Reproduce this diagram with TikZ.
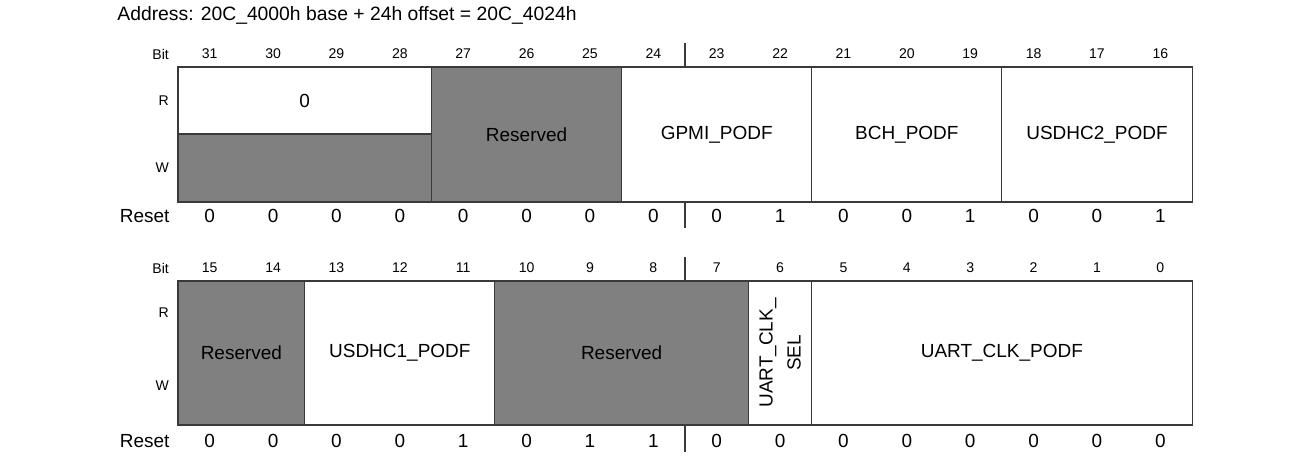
\documentclass[tikz,border=0pt]{standalone}
\usepackage{fontspec}
\setmainfont{Liberation Sans}
\usepackage{xcolor}
\usepackage{tikz}

\definecolor{regGray}{HTML}{808080}
\definecolor{regLine}{HTML}{3A3A3A}
\newcommand{\bitw}{1.2675cm}

\begin{document}
\begin{tikzpicture}[
        x=\bitw, y=1cm,
        field/.style={rectangle, draw=regLine, line width=0.6pt, inner sep=0pt, outer sep=0pt, text centered, font=\fontsize{10.8}{13}\selectfont},
        resv/.style={field, fill=regGray},
        bitno/.style={font=\fontsize{8}{9}\selectfont},
        rstval/.style={font=\fontsize{10.8}{13}\selectfont},
        rowlbl/.style={anchor=east, inner sep=0pt, font=\fontsize{8}{9}\selectfont},
        tick/.style={draw=regLine, line width=0.6pt}
    ]
        \useasboundingbox (-2.809,0) rectangle (17.767,9.14);

        \node[anchor=west, inner sep=0pt, font=\fontsize{11}{13}\selectfont] (addr) at (-0.9625, 8.84) {Address: 20C\_4000h base + 24h offset = 20C\_4024h};

        % ================= BITS 31 - 16 =================
        \node[rowlbl] (bitlblA) at (-0.14, 8.06) {Bit};
        \node[rowlbl] (rlblA) at (-0.14, 7.13) {R};
        \node[rowlbl] (wlblA) at (-0.14, 5.78) {W};
        \node[rowlbl, font=\fontsize{10.8}{13}\selectfont] (rstlblA) at (-0.13, 4.82) {Reset};

        \foreach \c in {0,...,15} {
            \pgfmathtruncatemacro{\b}{31-\c}
            \node[bitno] (bitA\c) at (\c+0.5, 8.06) {\b};
        }

        \node[field, minimum width=4*\bitw, minimum height=1.34cm] (zeroR) at (2, 7.13) {0};
        \node[resv, minimum width=4*\bitw, minimum height=1.36cm] (zeroW) at (2, 5.78) {};
        \node[resv, minimum width=3*\bitw, minimum height=2.70cm] (resvA) at (5.5, 6.45) {Reserved};
        \node[field, minimum width=3*\bitw, minimum height=2.70cm] (gpmi) at (8.5, 6.45) {GPMI\_PODF};
        \node[field, minimum width=3*\bitw, minimum height=2.70cm] (bch) at (11.5, 6.45) {BCH\_PODF};
        \node[field, minimum width=3*\bitw, minimum height=2.70cm] (usdhcB) at (14.5, 6.45) {USDHC2\_PODF};

        \foreach \v [count=\c from 0] in {0,0,0,0,0,0,0,0,0,1,0,0,1,0,0,1} {
            \node[rstval] (rstA\c) at (\c+0.5, 4.82) {\v};
        }

        \coordinate (tickAtop) at (8, 8.28);
        \coordinate (tickAbox) at (8, 7.80);
        \coordinate (tickAbot) at (8, 5.10);
        \coordinate (tickAend) at (8, 4.58);
        \draw[tick] (tickAtop) -- (tickAbox);
        \draw[tick] (tickAbot) -- (tickAend);

        % ================= BITS 15 - 0 =================
        \node[rowlbl] (bitlblB) at (-0.14, 3.78) {Bit};
        \node[rowlbl] (rlblB) at (-0.14, 2.88) {R};
        \node[rowlbl] (wlblB) at (-0.14, 1.42) {W};
        \node[rowlbl, font=\fontsize{10.8}{13}\selectfont] (rstlblB) at (-0.13, 0.32) {Reset};

        \foreach \c in {0,...,15} {
            \pgfmathtruncatemacro{\b}{15-\c}
            \node[bitno] (bitB\c) at (\c+0.5, 3.78) {\b};
        }

        \node[resv, minimum width=2*\bitw, minimum height=2.88cm] (resvB) at (1, 2.08) {Reserved};
        \node[field, minimum width=3*\bitw, minimum height=2.88cm] (usdhcA) at (3.5, 2.08) {USDHC1\_PODF};
        \node[resv, minimum width=4*\bitw, minimum height=2.88cm] (resvC) at (7, 2.08) {Reserved};
        \node[field, rotate=90, align=center, minimum width=2.88cm, minimum height=\bitw, font=\fontsize{10.8}{16}\selectfont] (uartsel) at (9.5, 2.08) {UART\_CLK\_\\SEL};
        \node[field, minimum width=6*\bitw, minimum height=2.88cm] (uartpodf) at (13, 2.08) {UART\_CLK\_PODF};

        \foreach \v [count=\c from 0] in {0,0,0,0,1,0,1,1,0,0,0,0,0,0,0,0} {
            \node[rstval] (rstB\c) at (\c+0.5, 0.32) {\v};
        }

        \coordinate (tickBtop) at (8, 4.00);
        \coordinate (tickBbox) at (8, 3.52);
        \coordinate (tickBbot) at (8, 0.64);
        \coordinate (tickBend) at (8, 0.10);
        \draw[tick] (tickBtop) -- (tickBbox);
        \draw[tick] (tickBbot) -- (tickBend);
    \end{tikzpicture}
\end{document}
